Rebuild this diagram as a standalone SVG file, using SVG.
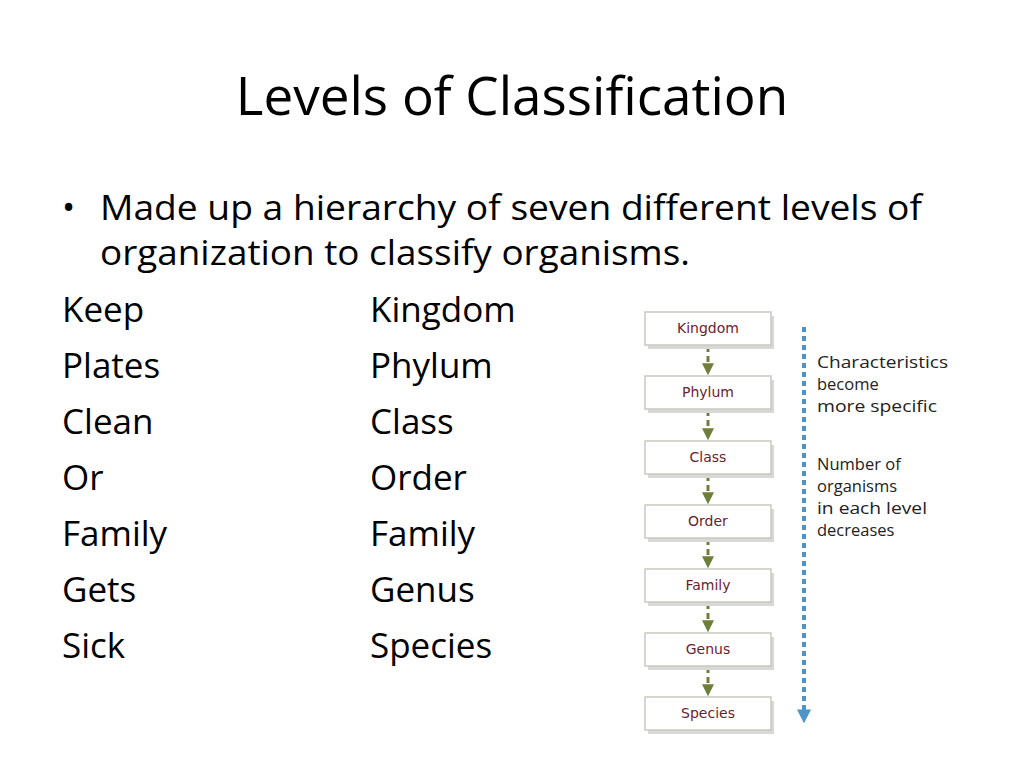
<svg xmlns="http://www.w3.org/2000/svg" width="1024" height="768" viewBox="0 0 1024 768">
<style>
.t{font-family:"Open Sans","Liberation Sans",sans-serif;fill:#000}
.b{font-size:35px}
.bx{fill:#fff;stroke:#c9c9c0;stroke-width:1.5}
.sh{fill:#d8d8d8}
.lb{font-family:"DejaVu Sans",sans-serif;font-size:14px;fill:#6b2230;text-anchor:middle}
.ar{stroke:#6f7f3a;stroke-width:3;stroke-dasharray:6,4;fill:none}
.sd{font-family:"Open Sans","Liberation Sans",sans-serif;font-size:16.5px;fill:#222}
</style>
<defs>
<marker id="g" viewBox="0 0 10 10" refX="9" refY="5" markerWidth="4" markerHeight="4" orient="auto"><path d="M0,0L10,5L0,10z" fill="#6f7f3a"/></marker>
<marker id="bl" viewBox="0 0 10 10" refX="9" refY="5" markerWidth="3.5" markerHeight="3.5" orient="auto"><path d="M0,0L10,5L0,10z" fill="#4f94c8"/></marker>
</defs>
<rect width="1024" height="768" fill="#fff"/>
<text class="t" x="512" y="115" font-size="53" text-anchor="middle">Levels of Classification</text>
<text class="t b" x="62" y="220">•</text>
<text class="t b" x="100" y="220" textLength="822" lengthAdjust="spacingAndGlyphs">Made up a hierarchy of seven different levels of</text>
<text class="t b" x="100" y="265" textLength="590" lengthAdjust="spacingAndGlyphs">organization to classify organisms.</text>
<g class="t b">
<text x="62" y="322">Keep</text><text x="370" y="322">Kingdom</text>
<text x="62" y="378">Plates</text><text x="370" y="378">Phylum</text>
<text x="62" y="434">Clean</text><text x="370" y="434">Class</text>
<text x="62" y="490">Or</text><text x="370" y="490">Order</text>
<text x="62" y="546">Family</text><text x="370" y="546">Family</text>
<text x="62" y="602">Gets</text><text x="370" y="602">Genus</text>
<text x="62" y="658">Sick</text><text x="370" y="658">Species</text>
</g>
<g id="connectors">
<line class="ar" x1="708" y1="346" x2="708" y2="374" marker-end="url(#g)"/>
<line class="ar" x1="708" y1="410" x2="708" y2="439" marker-end="url(#g)"/>
<line class="ar" x1="708" y1="475" x2="708" y2="503" marker-end="url(#g)"/>
<line class="ar" x1="708" y1="539" x2="708" y2="567" marker-end="url(#g)"/>
<line class="ar" x1="708" y1="603" x2="708" y2="631" marker-end="url(#g)"/>
<line class="ar" x1="708" y1="667" x2="708" y2="695" marker-end="url(#g)"/>
<line x1="804" y1="327" x2="804" y2="722" stroke="#4f94c8" stroke-width="4" stroke-dasharray="5,4" marker-end="url(#bl)"/>
</g>
<g id="kingdom"><rect class="sh" x="648" y="316" width="126" height="33"/><rect class="bx" x="645" y="312" width="126" height="33"/><text class="lb" x="708" y="333">Kingdom</text></g>
<g id="phylum"><rect class="sh" x="648" y="380" width="126" height="33"/><rect class="bx" x="645" y="376" width="126" height="33"/><text class="lb" x="708" y="397">Phylum</text></g>
<g id="class"><rect class="sh" x="648" y="445" width="126" height="33"/><rect class="bx" x="645" y="441" width="126" height="33"/><text class="lb" x="708" y="462">Class</text></g>
<g id="order"><rect class="sh" x="648" y="509" width="126" height="33"/><rect class="bx" x="645" y="505" width="126" height="33"/><text class="lb" x="708" y="526">Order</text></g>
<g id="family"><rect class="sh" x="648" y="573" width="126" height="33"/><rect class="bx" x="645" y="569" width="126" height="33"/><text class="lb" x="708" y="590">Family</text></g>
<g id="genus"><rect class="sh" x="648" y="637" width="126" height="33"/><rect class="bx" x="645" y="633" width="126" height="33"/><text class="lb" x="708" y="654">Genus</text></g>
<g id="species"><rect class="sh" x="648" y="701" width="126" height="33"/><rect class="bx" x="645" y="697" width="126" height="33"/><text class="lb" x="708" y="718">Species</text></g>
<g class="sd">
<text x="817" y="368" textLength="131" lengthAdjust="spacingAndGlyphs">Characteristics</text><text x="817" y="390">become</text><text x="817" y="412" textLength="120" lengthAdjust="spacingAndGlyphs">more specific</text>
<text x="817" y="470">Number of</text><text x="817" y="492">organisms</text><text x="817" y="514" textLength="110" lengthAdjust="spacingAndGlyphs">in each level</text><text x="817" y="536">decreases</text>
</g>
</svg>
